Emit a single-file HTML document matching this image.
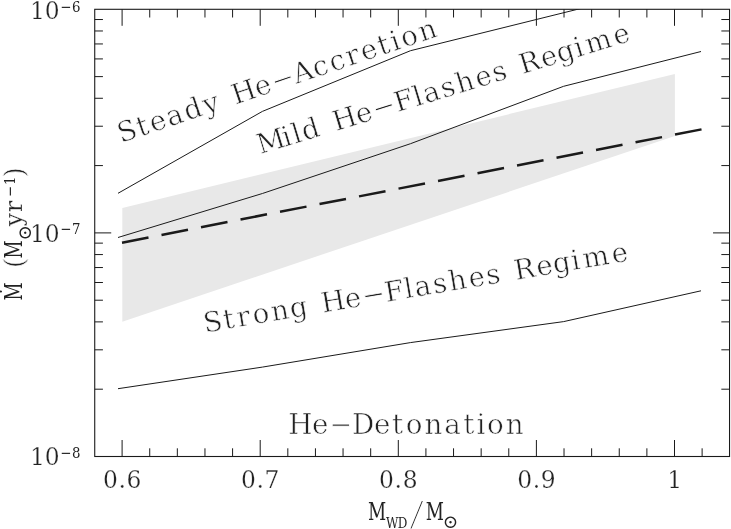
<!DOCTYPE html>
<html lang="en"><head><meta charset="utf-8"><title>He accretion regimes</title>
<style>html,body{margin:0;padding:0;background:#fff}body{width:731px;height:529px;overflow:hidden}svg{display:block}text{font-family:"DejaVu Serif", "Liberation Serif", serif;fill:#222;stroke:#fff;white-space:pre}</style>
</head><body>
<svg width="731" height="529" viewBox="0 0 731 529">
<rect x="0" y="0" width="731" height="529" fill="#ffffff"/>
<polygon points="122.3,207.9 674.9,73.9 674.9,136.0 122.3,321.7" fill="#e8e8e8"/>
<path d="M122.10 9.30v16.50M122.10 456.50v-16.50M149.72 9.30v8.20M149.72 456.50v-8.20M177.34 9.30v8.20M177.34 456.50v-8.20M204.96 9.30v8.20M204.96 456.50v-8.20M232.58 9.30v8.20M232.58 456.50v-8.20M260.20 9.30v16.50M260.20 456.50v-16.50M287.82 9.30v8.20M287.82 456.50v-8.20M315.44 9.30v8.20M315.44 456.50v-8.20M343.06 9.30v8.20M343.06 456.50v-8.20M370.68 9.30v8.20M370.68 456.50v-8.20M398.30 9.30v16.50M398.30 456.50v-16.50M425.92 9.30v8.20M425.92 456.50v-8.20M453.54 9.30v8.20M453.54 456.50v-8.20M481.16 9.30v8.20M481.16 456.50v-8.20M508.78 9.30v8.20M508.78 456.50v-8.20M536.40 9.30v16.50M536.40 456.50v-16.50M564.02 9.30v8.20M564.02 456.50v-8.20M591.64 9.30v8.20M591.64 456.50v-8.20M619.26 9.30v8.20M619.26 456.50v-8.20M646.88 9.30v8.20M646.88 456.50v-8.20M674.50 9.30v16.50M674.50 456.50v-16.50M702.12 9.30v8.20M702.12 456.50v-8.20M94.73 232.90h16.50M729.54 232.90h-16.50M94.73 165.59h8.20M729.54 165.59h-8.20M94.73 126.22h8.20M729.54 126.22h-8.20M94.73 98.28h8.20M729.54 98.28h-8.20M94.73 76.61h8.20M729.54 76.61h-8.20M94.73 58.91h8.20M729.54 58.91h-8.20M94.73 43.94h8.20M729.54 43.94h-8.20M94.73 30.97h8.20M729.54 30.97h-8.20M94.73 19.53h8.20M729.54 19.53h-8.20M94.73 389.19h8.20M729.54 389.19h-8.20M94.73 349.82h8.20M729.54 349.82h-8.20M94.73 321.88h8.20M729.54 321.88h-8.20M94.73 300.21h8.20M729.54 300.21h-8.20M94.73 282.51h8.20M729.54 282.51h-8.20M94.73 267.54h8.20M729.54 267.54h-8.20M94.73 254.57h8.20M729.54 254.57h-8.20M94.73 243.13h8.20M729.54 243.13h-8.20" fill="none" stroke="#1a1a1a" stroke-width="1"/>
<rect x="94.73" y="9.30" width="634.81" height="447.20" fill="none" stroke="#1a1a1a" stroke-width="1.1"/>
<clipPath id="c"><rect x="94.73" y="9.30" width="634.81" height="447.20"/></clipPath>
<polyline clip-path="url(#c)" points="118.0,193.3 262.4,111.4 410.5,50.7 617.0,-0.5" fill="none" stroke="#1a1a1a" stroke-width="1"/>
<polyline clip-path="url(#c)" points="118.0,237.5 262.4,193.5 410.5,143.7 563.6,86.3 701.0,51.5" fill="none" stroke="#1a1a1a" stroke-width="1"/>
<polyline clip-path="url(#c)" points="118.0,388.7 262.4,367.1 410.4,342.6 563.7,321.6 701.0,290.8" fill="none" stroke="#1a1a1a" stroke-width="1"/>
<line x1="122" y1="242.7" x2="702" y2="129.3" stroke="#1a1a1a" stroke-width="2.5" stroke-dasharray="27 13.25"/>
<text transform="translate(121.23 143.00) rotate(-18.60)" font-size="27.8" stroke-width="0.62" x="-0.35 19.75 33.25 51.06 69.57 89.62 109.29 120.22 144.16 161.71 184.70 205.12 222.83 240.30 256.00 274.19 287.55 298.27 317.13" y="0">Steady He<tspan stroke-width="0.90">−</tspan>Accretion</text>
<text transform="translate(262.53 153.56) rotate(-17.00)" font-size="27.8" stroke-width="0.62" x="-2.66 23.58 33.96 44.00 65.88 76.68 100.46 117.85 140.95 160.68 170.86 189.36 205.53 225.34 243.01 261.06 271.48 293.79 310.40 328.83 340.51 369.64" y="0">Mild He<tspan stroke-width="0.90">−</tspan>Flashes Regime</text>
<text transform="translate(205.33 332.63) rotate(-9.64)" font-size="27.8" stroke-width="0.62" x="-0.37 19.70 33.31 49.30 68.12 87.07 108.11 119.01 142.90 160.40 183.61 203.42 213.68 232.27 248.54 268.45 286.21 304.34 314.86 337.27 353.98 372.49 384.27 413.53" y="0">Strong He<tspan stroke-width="0.90">−</tspan>Flashes Regime</text>
<text transform="translate(289.20 434.30)" font-size="27.8" stroke-width="0.62" x="-1.02 22.76 40.15 62.89 84.74 102.81 116.51 135.23 155.14 174.03 187.31 197.91 216.63" y="0">He<tspan stroke-width="0.90">−</tspan>Detonation</text>
<text transform="translate(102.72 487.60)" font-size="23.4" stroke-width="0.25" x="0.16 15.66 23.67" y="0">0.6</text>
<text transform="translate(240.82 487.60)" font-size="23.4" stroke-width="0.25" x="0.16 15.66 23.58" y="0">0.7</text>
<text transform="translate(378.92 487.60)" font-size="23.4" stroke-width="0.25" x="0.16 15.66 23.72" y="0">0.8</text>
<text transform="translate(517.02 487.60)" font-size="23.4" stroke-width="0.25" x="0.16 15.66 23.77" y="0">0.9</text>
<text transform="translate(666.90 487.60)" font-size="23.4" stroke-width="0.25" x="0.39" y="0">1</text>
<text transform="translate(29.50 18.90)" font-size="23.4" stroke-width="0.25" x="0.39 15.36" y="0">10</text>
<text transform="translate(59.90 11.60) scale(0.900 1)" font-size="14.8" stroke-width="0.00" x="0.39 13.50" y="0"><tspan stroke-width="0.00">−</tspan>6</text>
<text transform="translate(29.50 241.70)" font-size="23.4" stroke-width="0.25" x="0.39 15.36" y="0">10</text>
<text transform="translate(59.90 234.40) scale(0.900 1)" font-size="14.8" stroke-width="0.00" x="0.39 13.45" y="0"><tspan stroke-width="0.00">−</tspan>7</text>
<text transform="translate(29.50 465.30)" font-size="23.4" stroke-width="0.25" x="0.39 15.36" y="0">10</text>
<text transform="translate(59.90 458.00) scale(0.900 1)" font-size="14.8" stroke-width="0.00" x="0.39 13.54" y="0"><tspan stroke-width="0.00">−</tspan>8</text>
<text transform="translate(367.60 520.20) scale(0.760 1)" font-size="23.4" stroke-width="0.00" x="0.53" y="0">M</text>
<text transform="translate(386.60 528.40) scale(0.780 1)" font-size="15.4" stroke-width="0.00" x="-0.91 14.31" y="0">WD</text>
<text transform="translate(408.18 525.60) scale(1.360 1)" font-size="34.5" stroke-width="1.90" x="0.34" y="0">/</text>
<text transform="translate(425.30 520.20) scale(0.760 1)" font-size="23.4" stroke-width="0.00" x="0.53" y="0">M</text>
<text transform="translate(444.30 528.00)" font-size="18.5" stroke-width="0.00" x="-1.59" y="0">⊙</text>
<g transform="translate(22.1 300.4) rotate(-90)">
<text transform="translate(-0.50 0.00) scale(0.760 1)" font-size="23.4" stroke-width="0.00" x="0.53" y="0">Ṁ</text>
<text transform="translate(32.20 1.60)" font-size="27.6" stroke-width="0.60" x="-0.17" y="0">(</text>
<text transform="translate(41.40 0.00) scale(0.760 1)" font-size="23.4" stroke-width="0.00" x="0.53" y="0">M</text>
<text transform="translate(61.50 8.40)" font-size="18.5" stroke-width="0.00" x="-1.59" y="0">⊙</text>
<text transform="translate(73.50 0.00)" font-size="23.4" stroke-width="0.25" x="0.68 14.88" y="0">yr</text>
<text transform="translate(103.00 -7.20) scale(0.900 1)" font-size="14.8" stroke-width="0.00" x="0.39 13.68" y="0"><tspan stroke-width="0.00">−</tspan>1</text>
<text transform="translate(122.60 1.60)" font-size="27.6" stroke-width="0.60" x="0.05" y="0">)</text>
</g>
</svg></body></html>
